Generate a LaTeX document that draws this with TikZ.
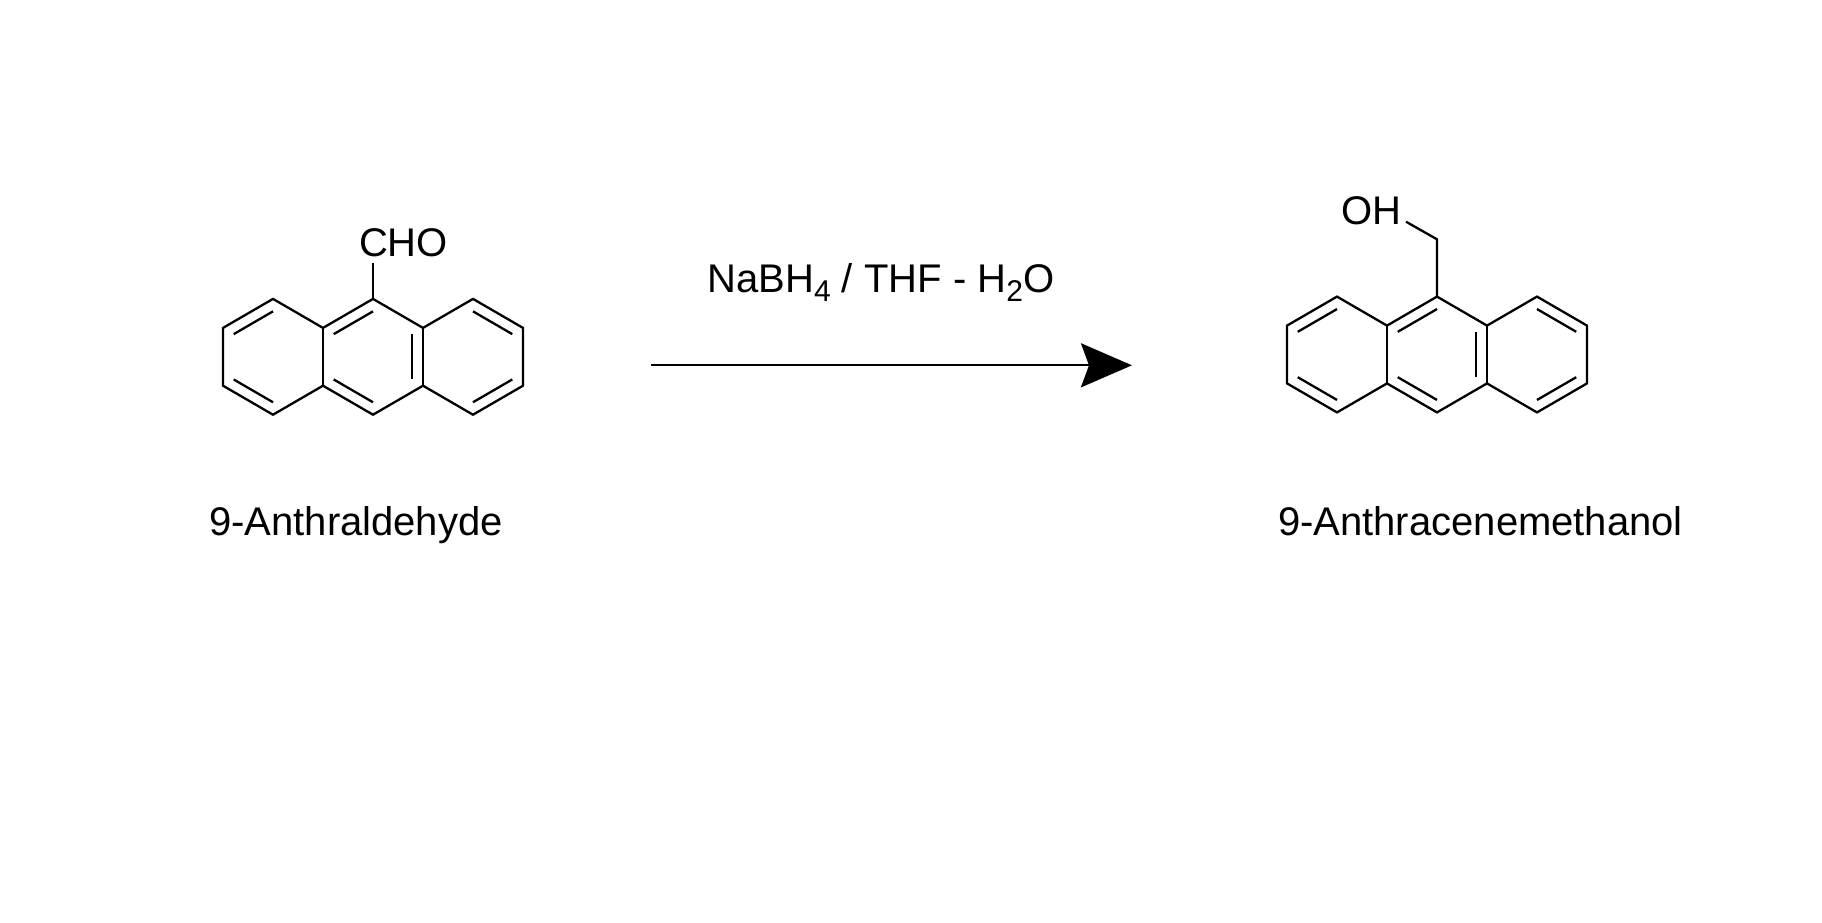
\documentclass[tikz,border=0pt]{standalone}
\usepackage{fontspec}
\setmainfont{Liberation Sans}
\usetikzlibrary{arrows.meta,calc}
\newcommand{\lowidx}[1]{\raisebox{-4.2pt}{\fontsize{15}{16}\selectfont #1}}
\tikzset{
    bond/.style={line width=1.15pt,line join=miter},
    label/.style={inner sep=3pt,anchor=base,font=\fontsize{20}{24}\selectfont},
    anthracene/.pic={
        \foreach \name/\px/\py in {lc/-100/0,mc/0/0,rc/100/0,
                lt/-100/-57.9,lu/-150/-28.9,ll/-150/28.9,lb/-100/57.9,
                tl/-50/-28.9,top/0/-57.9,tr/50/-28.9,
                bl/-50/28.9,bot/0/57.9,br/50/28.9,
                rt/100/-57.9,ru/150/-28.9,rl/150/28.9,rb/100/57.9}
            \coordinate (-\name) at (\px,\py);
        \draw[bond] (-lt) -- (-lu) -- (-ll) -- (-lb) -- (-bl) -- (-bot) -- (-br) -- (-rb)
            -- (-rl) -- (-ru) -- (-rt) -- (-tr) -- (-top) -- (-tl) -- cycle;
        \draw[bond] (-tl) -- (-bl) (-tr) -- (-br);
        \foreach \ring/\from/\to in {lc/lt/lu,lc/ll/lb,mc/tl/top,mc/bl/bot,mc/tr/br,rc/rt/ru,rc/rl/rb}
            \draw[bond] ($(-\ring)!0.785!(-\from)$) -- ($(-\ring)!0.785!(-\to)$);
    }
}
\begin{document}
\begin{tikzpicture}[x=0.5pt,y=-0.5pt]
    \useasboundingbox (0,0) rectangle (1822,922);
    % reactant
    \pic (ald) at (373,356.8) {anthracene};
    \node[label] (cho) at (403.5,256.5) {CHO};
    \node[label] (aldname) at (356,535) {9-Anthraldehyde};
    \draw[bond] (ald-top) -- (cho.south -| ald-top);
    % reagents and arrow
    \node[label] (reagent) at (880.8,292.7) {NaBH\lowidx{4} / THF - H\lowidx{2}O};
    \coordinate (arrowstart) at (651,365.3);
    \coordinate (arrowend) at (1132,365.3);
    \draw[bond,-{Stealth[length=25.5pt,width=22pt,inset=4pt]}] (arrowstart) -- (arrowend);
    % product
    \pic (alc) at (1437,354.5) {anthracene};
    \node[label] (oh) at (1371.5,224.3) {OH};
    \node[label] (alcname) at (1480.5,535) {9-Anthracenemethanol};
    \coordinate (ch2) at (1437,239.3);
    \coordinate (ohbond) at (1406,221.7);
    \draw[bond] (alc-top) -- (ch2) -- (ohbond);
\end{tikzpicture}
\end{document}
